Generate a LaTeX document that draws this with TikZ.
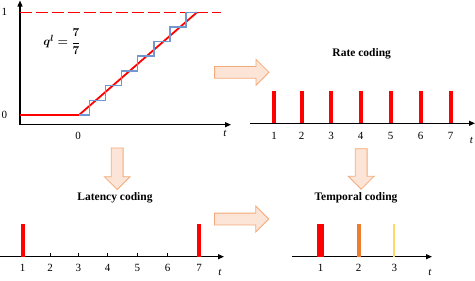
\documentclass[tikz,border=0pt]{standalone}
\usepackage{fontspec}
\usepackage{amsmath}
\usepackage{bm}
\setmainfont{Liberation Serif}
\usetikzlibrary{arrows.meta, shapes.arrows}
\definecolor{myred}{RGB}{255, 0, 0}
\definecolor{myblue}{RGB}{114, 150, 207}
\definecolor{myorange}{RGB}{237, 125, 49}
\definecolor{myyellow}{RGB}{255, 217, 102}
\definecolor{arrowfill}{RGB}{252, 228, 214}
\definecolor{arrowedge}{RGB}{244, 170, 120}
% spike: x position, base line, width, colour
\def\spike#1#2#3#4{
    \fill[#4] (#1-#3/2, #2) rectangle (#1+#3/2, #2-32.4);
}
\tikzset{
    axis/.style={black, line width=1.1pt, -{Triangle[length=6pt, width=5pt]}},
    blockarrow/.style={single arrow, draw=arrowedge, fill=arrowfill, line width=0.8pt,
        minimum width=25pt, single arrow head extend=7pt, inner sep=5.5pt},
    tlabel/.style={font=\fontsize{11}{13}\selectfont, inner sep=0pt},
    title/.style={font=\fontsize{11.5}{13}\selectfont\bfseries, inner sep=0pt}
}

\begin{document}
\begin{tikzpicture}[x=1pt, y=-1pt]
    \useasboundingbox (0, 0) rectangle (475, 281);

    % ----------------------------------------------------
    % TOP LEFT: activation ramp and its quantised steps
    % ----------------------------------------------------
    \draw[axis] (20, 124.7) -- (20, 0.5);
    \draw[axis] (20, 124.7) -- (231, 124.7);
    \draw[myred, line width=1.6pt, dash pattern=on 12pt off 4pt] (20, 12.3) -- (221, 12.3);
    \draw[myred, line width=1.8pt] (20, 115) -- (79, 115) -- (197, 12.3);
    \draw[myblue, line width=1.6pt] (79, 115)
        -- (89.3, 115) -- (89.3, 100.3) -- (105.4, 100.3) -- (105.4, 85.6)
        -- (121.5, 85.6) -- (121.5, 70.9) -- (137.6, 70.9) -- (137.6, 56.2)
        -- (153.7, 56.2) -- (153.7, 41.5) -- (169.8, 41.5) -- (169.8, 26.8)
        -- (185.7, 26.8) -- (185.7, 12.3) -- (197, 12.3);
    \node[tlabel] (yone) at (4.5, 12) {1};
    \node[tlabel] (yzero) at (4.5, 115) {0};
    \node[tlabel] (xzero) at (78, 135.5) {0};
    \node[tlabel] (tq) at (225, 133.5) {\textit{t}};
    \node[inner sep=0pt, font=\fontsize{12.5}{14}\selectfont] (ql) at (62, 42)
        {$\bm{q^{l}=\dfrac{7}{7}}$};

    % ----------------------------------------------------
    % TOP RIGHT: rate coding
    % ----------------------------------------------------
    \node[title] (rate) at (361.7, 53.3) {Rate coding};
    \draw[axis] (250, 123.3) -- (475, 123.3);
    \foreach \i/\x in {1/274, 2/301.7, 3/331, 4/360.7, 5/390.7, 6/420.7, 7/450.7} {
        \spike{\x}{123.3}{4}{myred}
        \node[tlabel] (r\i) at (\x, 135.7) {\i};
    }
    \node[tlabel] (tr) at (471.5, 140) {\textit{t}};

    % ----------------------------------------------------
    % BOTTOM LEFT: latency coding
    % ----------------------------------------------------
    \node[title] (latency) at (115, 197.3) {Latency coding};
    \draw[axis] (0, 256.7) -- (224, 256.7);
    \foreach \i/\x in {1/22.7, 2/50, 3/78.3, 4/107.7, 5/137.3, 6/167.7, 7/199} {
        \draw[black, line width=0.9pt] (\x, 256.7) -- (\x, 252.5);
        \node[tlabel] (l\i) at (\x, 267.7) {\i};
    }
    \spike{22.7}{256.7}{4}{myred}
    \spike{199}{256.7}{4}{myred}
    \node[tlabel] (tl) at (220, 272.7) {\textit{t}};

    % ----------------------------------------------------
    % BOTTOM RIGHT: temporal coding
    % ----------------------------------------------------
    \node[title] (temporal) at (356, 197.3) {Temporal coding};
    \draw[axis] (291.7, 256.7) -- (432, 256.7);
    \spike{320.7}{256.7}{6.5}{myred}
    \spike{358.7}{256.7}{4}{myorange}
    \spike{394.3}{256.7}{2}{myyellow}
    \foreach \i/\x in {1/320.7, 2/358.7, 3/394.3}
        \node[tlabel] (p\i) at (\x, 268.3) {\i};
    \node[tlabel] (tp) at (430, 272) {\textit{t}};

    % ----------------------------------------------------
    % Block arrows between the panels
    % ----------------------------------------------------
    \node[blockarrow, minimum height=54.3pt] (toRate) at (238.8, 72.3) {};
    \node[blockarrow, minimum height=54.3pt] (toTemporal) at (238.6, 219) {};
    \node[blockarrow, minimum height=41.7pt, rotate=-90] (toLatency) at (117.2, 165.8) {};
    \node[blockarrow, minimum height=40.5pt, rotate=-90] (rateDown) at (361.2, 166) {};

\end{tikzpicture}
\end{document}
